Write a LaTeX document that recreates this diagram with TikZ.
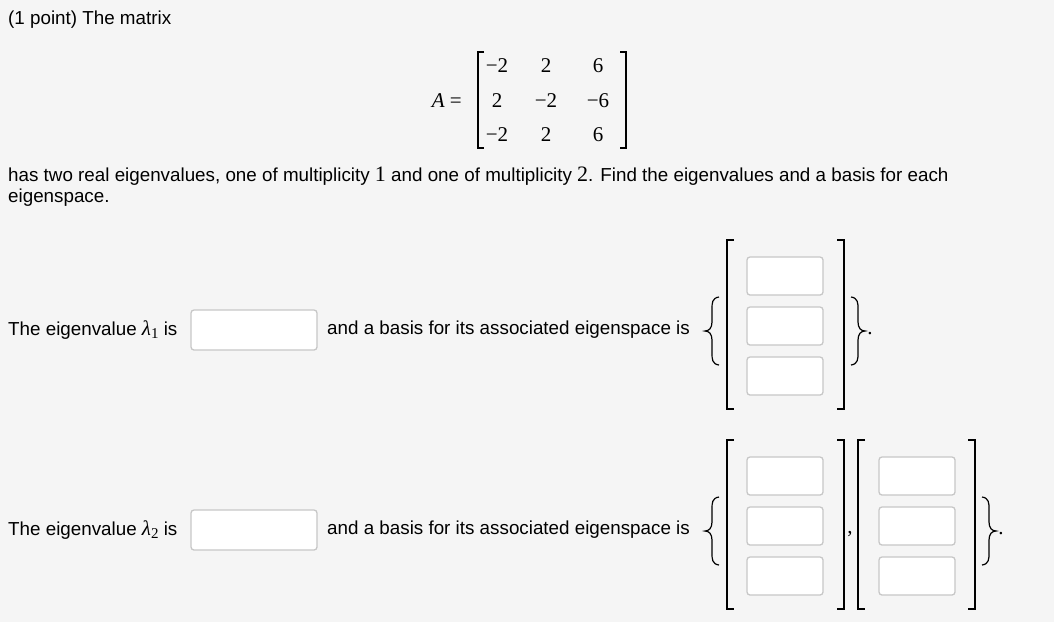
\documentclass[tikz,border=0pt]{standalone}
\usepackage{fontspec}
\setsansfont{Liberation Sans}
\newfontfamily\tms{Liberation Serif}
\begin{document}
\begin{tikzpicture}[x=1pt,y=-1pt,
  txt/.style={font=\sffamily\fontsize{18.8}{22}\selectfont,anchor=west,inner sep=0},
  num/.style={font=\tms\fontsize{21}{24}\selectfont,inner sep=0},
  ans/.style={draw=black!22,line width=1.3pt,fill=white,rounded corners=3pt},
  brk/.style={line width=1.1pt},
  crl/.style={line width=1.2pt}]
\useasboundingbox[fill=black!4] (0,0) rectangle (1054,622);
\newcommand\lbr[2]{\draw[crl] (#1+7,#2-34) .. controls (#1,#2-33) and (#1,#2-28) .. (#1,#2-22) -- (#1,#2-9) .. controls (#1,#2-3) and (#1-3,#2) .. (#1-7,#2) .. controls (#1-3,#2) and (#1,#2+3) .. (#1,#2+9) -- (#1,#2+22) .. controls (#1,#2+28) and (#1,#2+33) .. (#1+7,#2+34);}
\newcommand\rbr[2]{\draw[crl] (#1-7,#2-34) .. controls (#1,#2-33) and (#1,#2-28) .. (#1,#2-22) -- (#1,#2-9) .. controls (#1,#2-3) and (#1+3,#2) .. (#1+7,#2) .. controls (#1+3,#2) and (#1,#2+3) .. (#1,#2+9) -- (#1,#2+22) .. controls (#1,#2+28) and (#1,#2+33) .. (#1-7,#2+34);}
\node[txt] (t1) at (8,20) {(1 point) The matrix};
% matrix
\node[num,anchor=east] (A) at (462,101) {\textit{A} =};
\draw[brk] (484,52) -- (478,52) -- (478,148) -- (484,148);
\draw[brk] (620,52) -- (626,52) -- (626,148) -- (620,148);
\node[num] (m11) at (497,66) {−2}; \node[num] (m12) at (546,66) {2}; \node[num] (m13) at (598,66) {6};
\node[num] (m21) at (497,101) {2}; \node[num] (m22) at (546,101) {−2}; \node[num] (m23) at (598,101) {−6};
\node[num] (m31) at (497,135) {−2}; \node[num] (m32) at (546,135) {2}; \node[num] (m33) at (598,135) {6};
\node[txt] (t2) at (8,176) {has two real eigenvalues, one of multiplicity {\tms\fontsize{22}{22}\selectfont 1} and one of multiplicity {\tms\fontsize{22}{22}\selectfont 2}. Find the eigenvalues and a basis for each};
\node[txt] (t3) at (8,198) {eigenspace.};
% row 1
\node[txt] (l1) at (8,330) {The eigenvalue {\tms\fontsize{21}{22}\selectfont\textit{λ}\raisebox{-3pt}{\fontsize{15}{15}\selectfont 1}} is};
\draw[ans] (191,310) rectangle (317,350);
\node[txt] (b1) at (327,330) {and a basis for its associated eigenspace is};
\lbr{712}{331}
\draw[brk] (734,240) -- (727,240) -- (727,409) -- (734,409);
\draw[brk] (837,240) -- (844,240) -- (844,409) -- (837,409);
\foreach \y in {257,307,357}{\draw[ans] (747,\y) rectangle (823,\y+38);}
\rbr{858}{331}
\node[num] (p1) at (870,334) {.};
% row 2
\node[txt] (l2) at (8,530) {The eigenvalue {\tms\fontsize{21}{22}\selectfont\textit{λ}\raisebox{-3pt}{\fontsize{15}{15}\selectfont 2}} is};
\draw[ans] (191,510) rectangle (317,550);
\node[txt] (b2) at (327,530) {and a basis for its associated eigenspace is};
\lbr{712}{531}
\draw[brk] (734,440) -- (727,440) -- (727,609) -- (734,609);
\draw[brk] (837,440) -- (844,440) -- (844,609) -- (837,609);
\foreach \y in {457,507,557}{\draw[ans] (747,\y) rectangle (823,\y+38);}
\node[num] (c2) at (850,534) {,};
\draw[brk] (865,440) -- (858,440) -- (858,609) -- (865,609);
\draw[brk] (968,440) -- (975,440) -- (975,609) -- (968,609);
\foreach \y in {457,507,557}{\draw[ans] (879,\y) rectangle (955,\y+38);}
\rbr{989}{531}
\node[num] (p2) at (1001,534) {.};
\end{tikzpicture}
\end{document}
